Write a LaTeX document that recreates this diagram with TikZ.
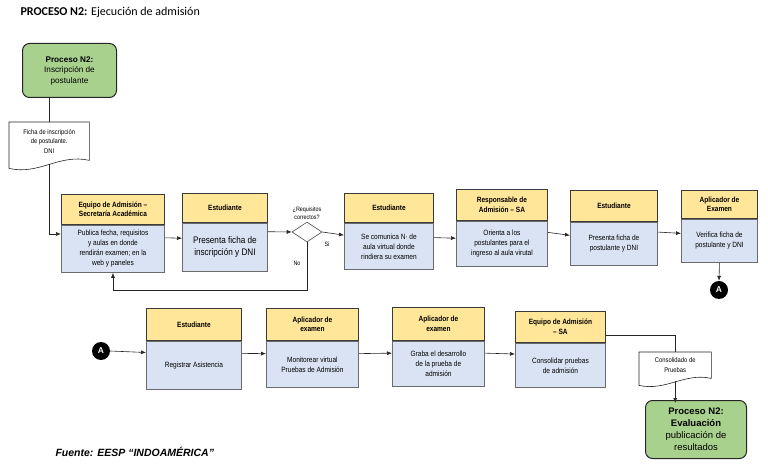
\documentclass[tikz,border=0pt]{standalone}
\usepackage{fontspec}
\setmainfont{Liberation Sans}
\newfontfamily\narrowfont[FakeStretch=0.86]{Liberation Sans}
\newfontfamily\titlefont{Carlito}
\usetikzlibrary{arrows.meta,shapes.geometric,positioning}
\definecolor{procgreen}{HTML}{A9D18E}
\definecolor{hdryellow}{HTML}{FFE699}
\definecolor{bodyblue}{HTML}{DAE3F3}
\definecolor{boxline}{HTML}{3A3A3A}

\tikzset{
  hdr/.style={draw=boxline, fill=hdryellow, line width=0.9pt, align=center,
    font=\narrowfont\bfseries\fontsize{7.6}{9.5}\selectfont, inner sep=1pt},
  bdy/.style={draw=boxline!75, fill=bodyblue, line width=0.9pt, align=center,
    font=\narrowfont\fontsize{7.6}{10}\selectfont, inner sep=1pt},
  bigbdy/.style={font=\narrowfont\fontsize{9.5}{12}\selectfont},
  proc/.style={draw=black!85, fill=procgreen, rounded corners=7pt, line width=1pt,
    align=center, font=\fontsize{8.2}{10.5}\selectfont, inner sep=1pt},
  doctext/.style={align=center, font=\narrowfont\fontsize{6.8}{9.5}\selectfont, inner sep=1pt},
  smalltext/.style={align=center, font=\narrowfont\fontsize{6.3}{8}\selectfont, inner sep=1pt},
  flow/.style={-{Latex[length=5pt,width=4pt]}, line width=0.6pt, black!85},
  link/.style={line width=0.6pt, black!85},
  conn/.style={circle, fill=black, text=white, font=\bfseries\fontsize{8.5}{8.5}\selectfont,
    minimum size=18pt, inner sep=0pt},
}

% actor header + activity body
\newcommand{\actbox}[9][]{%
  \node[hdr, minimum width=#5pt, minimum height=#6pt, anchor=north west] (#2h) at (#3,#4) {#8};
  \node[bdy, #1, minimum width=#5pt, minimum height=#7pt, anchor=north] (#2) at (#2h.south) {#9};
}

\begin{document}
\begin{tikzpicture}[x=1pt,y=-1pt]
  \useasboundingbox (0,0) rectangle (768,470);

  \node[anchor=base west, font=\titlefont\fontsize{12}{14}\selectfont] (titulo) at (17,16)
    {\textbf{PROCESO N2:} Ejecución de admisión};

  % first row
  \node[proc, minimum width=94pt, minimum height=54pt, anchor=north west] (inscripcion) at (22,43)
    {\textbf{Proceso N2:}\\Inscripción de\\postulante};

  \node[doctext, minimum width=80pt, minimum height=38pt, anchor=north west] (ficha) at (9,122)
    {Ficha de inscripción\\de postulante.\\DNI};
  \draw[link] (ficha.north west) -- (ficha.north east) -- (ficha.south east)
    .. controls +(-30,-7) and +(30,7) .. ([yshift=-8pt]ficha.south west) -- cycle;

  \actbox{equipo}{61}{194}{103}{30}{47}{Equipo de Admisión –\\Secretaría Académica}
    {Publica fecha, requisitos\\y aulas en donde\\rendirán examen; en la\\web y paneles}
  \actbox[bigbdy]{presenta}{182}{193}{85}{29}{48}{Estudiante}{Presenta ficha de\\inscripción y DNI}
  \node[diamond, draw=black!70, line width=0.6pt, minimum width=30pt, minimum height=20pt,
    inner sep=0pt] (check) at (307,232) {};
  \node[smalltext, above=1pt of check] (pregunta) {¿Requisitos\\correctos?};
  \node[smalltext] (si) at (327,244) {Si};
  \node[smalltext] (no) at (297,263) {No};
  \actbox{comunica}{344}{193}{89}{29}{46}{Estudiante}{Se comunica N· de\\aula virtual donde\\rindiera su examen}
  \actbox{orienta}{456}{189}{91}{31}{45}{Responsable de\\Admisión – SA}{Orienta a los\\postulantes para el\\ingreso al aula virutal}
  \actbox{presentados}{570}{190}{87}{31}{43}{Estudiante}{Presenta ficha de\\postulante y DNI}
  \actbox{verifica}{681}{190}{76}{28}{43}{Aplicador de\\Examen}{Verifica ficha de\\postulante y DNI}
  \node[conn] (aout) at (719,290) {A};

  \draw[link] (inscripcion.south -| ficha.north) -- (ficha.north);
  \draw[flow] ([yshift=-4pt]ficha.south) |- (equipo.164);
  \draw[flow] (equipo.12) -- (presenta.168);
  \draw[flow] (presenta.20) -- (check.west);
  \draw[flow] (check.east) -- (comunica.166);
  \draw[flow] (check.south) -- ++(0,48) -| (equipo.south);
  \draw[flow] (comunica.11) -- (orienta.173);
  \draw[flow] (orienta.14) -- (presentados.169);
  \draw[flow] (presentados.15) -- (verifica.169);
  \draw[flow] (verifica.south) -- (aout.north);

  % second row
  \node[conn] (ain) at (101,351) {A};
  \actbox{asistencia}{146}{308}{95}{32}{48}{Estudiante}{Registrar Asistencia}
  \actbox{monitorea}{266}{308}{92}{32}{46}{Aplicador de\\examen}{Monitorear virtual\\Pruebas de Admisión}
  \actbox{graba}{392}{307}{92}{33}{45}{Aplicador de\\examen}{Graba el desarrollo\\de la prueba de\\admisión}
  \actbox{consolida}{515}{311}{90}{31}{44}{Equipo de Admisión\\– SA}{Consolidar pruebas\\de admisión}

  \node[doctext, minimum width=72pt, minimum height=26pt, anchor=north west] (consolidado) at (639,352)
    {Consolidado de\\Pruebas};
  \draw[link] (consolidado.north west) -- (consolidado.north east) -- (consolidado.south east)
    .. controls +(-27,-6) and +(27,6) .. ([yshift=-7pt]consolidado.south west) -- cycle;

  \node[proc, font=\fontsize{9.5}{12}\selectfont, minimum width=101pt, minimum height=58pt,
    anchor=north west] (evaluacion) at (645,400)
    {\textbf{Proceso N2:}\\\textbf{Evaluación}\\publicación de\\resultados};

  \draw[flow] (ain.east) -- (asistencia.165);
  \draw[flow] (asistencia.14) -- (monitorea.167);
  \draw[flow] (monitorea.13) -- (graba.167);
  \draw[flow] (graba.13) -- (consolida.166);
  \draw[link] (consolidah.-10) -| (consolidado.north);
  \draw[flow] ([yshift=-3pt]consolidado.south) -- ([yshift=-3pt]consolidado.south |- evaluacion.north);

  \node[anchor=base west, font=\bfseries\itshape\fontsize{10.5}{12}\selectfont] (fuente) at (52,456)
    {Fuente: EESP “INDOAMÉRICA”};
\end{tikzpicture}
\end{document}
